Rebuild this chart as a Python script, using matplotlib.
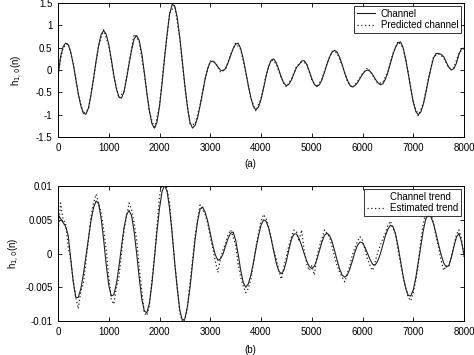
import numpy as np
import matplotlib
matplotlib.use("Agg")
import matplotlib.pyplot as plt
from matplotlib.lines import Line2D

plt.rcParams['font.family'] = ['Liberation Sans', 'DejaVu Sans']
plt.rcParams['axes.unicode_minus'] = False

# ---- data (a) ----
n_a = list(range(0, 8001, 50))
channel = [-0.15, 0.3, 0.52, 0.6, 0.568, 0.405, 0.133, -0.2, -0.533, -0.805,
           -0.968, -0.99, -0.85, -0.56, -0.19, 0.2, 0.54, 0.8, 0.88, 0.8,
           0.57, 0.24, -0.12, -0.42, -0.6, -0.63, -0.49, -0.2, 0.14, 0.45,
           0.7, 0.77, 0.66, 0.37, -0.05, -0.51, -0.91, -1.2, -1.3, -1.17,
           -0.81, -0.3, 0.28, 0.81, 1.26, 1.47, 1.43, 1.17, 0.73, 0.2,
           -0.35, -0.83, -1.17, -1.3, -1.24, -1.07, -0.8, -0.5, -0.2, 0.04,
           0.18, 0.2, 0.15, 0.07, 0.0, -0.02, 0.03, 0.16, 0.32, 0.48,
           0.58, 0.6, 0.48, 0.25, -0.04, -0.35, -0.62, -0.82, -0.89, -0.83,
           -0.66, -0.41, -0.14, 0.08, 0.22, 0.25, 0.16, 0.01, -0.16, -0.3,
           -0.35, -0.32, -0.22, -0.08, 0.06, 0.12, 0.2, 0.21, 0.13, -0.02,
           -0.19, -0.32, -0.37, -0.33, -0.22, -0.05, 0.13, 0.29, 0.4, 0.44,
           0.4, 0.28, 0.12, -0.07, -0.22, -0.34, -0.38, -0.35, -0.285, -0.19,
           -0.095, -0.025, 0.0, -0.03, -0.1, -0.2, -0.28, -0.33, -0.31, -0.21,
           -0.05, 0.15, 0.35, 0.51, 0.61, 0.63, 0.5, 0.25, -0.07, -0.41,
           -0.71, -0.93, -1.0, -0.94, -0.76, -0.5, -0.21, 0.05, 0.27, 0.37,
           0.37, 0.35, 0.3, 0.18, 0.06, 0.0, 0.03, 0.15, 0.35, 0.48, 0.47]
n_p = list(range(0, 8001, 100))
predicted = [-0.05, 0.5, 0.6, 0.15, -0.55, -0.98, -0.88, -0.2, 0.56, 0.9,
             0.55, -0.14, -0.63, -0.48, 0.16, 0.8, 0.64, -0.08, -0.93, -1.32,
             -0.8, 0.3, 1.27, 1.45, 0.7, -0.38, -1.2, -1.22, -0.78, -0.18,
             0.2, 0.17, -0.04, 0.02, 0.34, 0.6, 0.46, -0.06, -0.64, -0.92,
             -0.64, -0.12, 0.24, 0.14, -0.18, -0.38, -0.2, 0.08, 0.18, 0.15,
             -0.22, -0.38, -0.2, 0.14, 0.42, 0.38, 0.1, -0.25, -0.4, -0.26,
             -0.08, 0.05, -0.12, -0.3, -0.28, -0.03, 0.37, 0.64, 0.5, -0.05,
             -0.73, -1.02, -0.74, -0.18, 0.3, 0.36, 0.28, 0.04, 0.05, 0.38, 0.5]

# ---- data (b) ----
n_b = list(range(0, 8001, 50))
trend = [0.0058, 0.0052, 0.0046, 0.0040, 0.0027, -0.0007, -0.0042, -0.0065, -0.0065, -0.0052,
         -0.0031, -0.0004, 0.0024, 0.0049, 0.0068, 0.0078, 0.0074, 0.0052, 0.0020, -0.0017,
         -0.0047, -0.0063, -0.0061, -0.0045, -0.0020, 0.0010, 0.0038, 0.0057, 0.0064, 0.0056,
         0.0032, 0.0000, -0.0036, -0.0067, -0.0085, -0.0088, -0.0074, -0.0045, -0.0007, 0.0033,
         0.0067, 0.0092, 0.0101, 0.0092, 0.0066, 0.0029, -0.0014, -0.0052, -0.0084, -0.0099,
         -0.0097, -0.0079, -0.0051, -0.0016, 0.0020, 0.0048, 0.0066, 0.0069, 0.0061, 0.0048,
         0.0030, 0.0012, -0.0002, -0.0010, -0.0008, -0.0001, 0.0011, 0.0022, 0.0030, 0.0032,
         0.0020, -0.0001, -0.0025, -0.0043, -0.0050, -0.0045, -0.0032, -0.0014, 0.0007, 0.0026,
         0.0042, 0.0050, 0.0048, 0.0038, 0.0022, 0.0004, -0.0014, -0.0026, -0.0030, -0.0025,
         -0.0011, 0.0006, 0.0021, 0.0029, 0.0029, 0.0022, 0.0012, 0.0000, -0.0011, -0.0019,
         -0.0022, -0.0019, -0.0009, 0.0004, 0.0017, 0.0027, 0.0030, 0.0027, 0.0018, 0.0004,
         -0.0010, -0.0023, -0.0032, -0.0035, -0.0032, -0.0023, -0.0011, 0.0002, 0.0012, 0.0017,
         0.0016, 0.0009, 0.0000, -0.0009, -0.0016, -0.0017, -0.0011, -0.0001, 0.00125, 0.0026,
         0.0036, 0.0042, 0.0040, 0.0029, 0.0011, -0.0011, -0.0033, -0.0051, -0.0062, -0.0063,
         -0.0054, -0.0036, -0.0012, 0.0013, 0.0035, 0.0052, 0.0057, 0.0054, 0.0044, 0.0029,
         0.0013, -0.0002, -0.0014, -0.0020, -0.0018, -0.0006, 0.0010, 0.0024, 0.0030, 0.0018,
         -0.0002]
n_e = list(range(0, 8001, 50))
estimated = [0.003, 0.0075, 0.005, 0.0045, 0.001, -0.001, -0.004, -0.0065, -0.0082, -0.0055,
             -0.0045, -0.001, 0.002, 0.0055, 0.0075, 0.0088, 0.0075, 0.006, 0.0035, 0.0005,
             -0.0035, -0.0068, -0.0075, -0.005, -0.0035, 0.0, 0.0035, 0.0055, 0.0075, 0.0065,
             0.0045, 0.002, -0.002, -0.0055, -0.0088, -0.0092, -0.0078, -0.004, -0.0005, 0.004,
             0.0085, 0.0105, 0.0108, 0.0095, 0.0075, 0.003, -0.0015, -0.005, -0.0088, -0.0102,
             -0.0098, -0.0078, -0.0045, -0.001, 0.0025, 0.005, 0.0072, 0.0065, 0.0058, 0.0045,
             0.0025, 0.0008, -0.0012, -0.0028, -0.0008, 0.0005, 0.0015, 0.0028, 0.0035, 0.0025,
             0.0012, -0.0015, -0.0035, -0.0048, -0.0058, -0.0052, -0.0038, -0.0015, 0.001, 0.003,
             0.0048, 0.0058, 0.0052, 0.004, 0.0022, 0.0005, -0.0008, -0.0025, -0.0038, -0.002,
             -0.0005, 0.0012, 0.0025, 0.0035, 0.0032, 0.0018, 0.0035, 0.0005, -0.0015, -0.0025,
             -0.0018, -0.0032, -0.0005, 0.001, 0.0022, 0.0035, 0.003, 0.0025, 0.001, -0.0005,
             -0.0018, -0.0028, -0.0035, -0.0042, -0.003, -0.0018, -0.0002, 0.0008, 0.0018, 0.0025,
             0.002, 0.0005, -0.0008, -0.0018, -0.0025, -0.0012, 0.0002, 0.0012, 0.0022, 0.003,
             0.0042, 0.0048, 0.0038, 0.003, 0.0005, -0.0015, -0.0035, -0.005, -0.0065, -0.007,
             -0.0058, -0.004, -0.0015, 0.002, 0.0045, 0.0062, 0.0065, 0.0058, 0.0045, 0.0025,
             0.0008, -0.001, -0.0025, -0.0018, -0.002, -0.0005, 0.0012, 0.0028, 0.0035, 0.0022,
             -0.0005]

xticks = [0, 1000, 2000, 3000, 4000, 5000, 6000, 7000, 8000]
yticks_a = [-1.5, -1, -0.5, 0, 0.5, 1, 1.5]
ylabels_a = ['-1.5', '-1', '-0.5', '0', '0.5', '1', '1.5']
yticks_b = [-0.01, -0.005, 0, 0.005, 0.01]
ylabels_b = ['-0.01', '-0.005', '0', '0.005', '0.01']

fig = plt.figure(figsize=(4.74, 3.55), dpi=100)
ax1 = fig.add_axes([0.1224, 0.614, 0.8565, 0.3775])
ax2 = fig.add_axes([0.1224, 0.0958, 0.8565, 0.380])

lc = '#222222'
l1, = ax1.plot(n_a, channel, color=lc, lw=0.8, label='Channel')
l2, = ax1.plot(n_p, predicted, color=lc, lw=0.9, ls=(0, (1, 2)), label='Predicted channel')
ax1.set_xlim(0, 8000)
ax1.set_ylim(-1.5, 1.5)
ax1.set_yticks(yticks_a)
ax1.set_yticklabels(ylabels_a)

l3, = ax2.plot(n_b, trend, color=lc, lw=0.8, label='Channel trend')
l4, = ax2.plot(n_e, estimated, color=lc, lw=0.9, ls=(0, (1, 2)), label='Estimated trend')
ax2.set_xlim(0, 8000)
ax2.set_ylim(-0.01, 0.01)
ax2.set_yticks(yticks_b)
ax2.set_yticklabels(ylabels_b)

hidden = Line2D([], [], color='none', label='Channel trend')
handles = [[l1, l2], [hidden, l4]]

for ax, hs in zip((ax1, ax2), handles):
    ax.set_xticks(xticks)
    ax.set_xticklabels([str(t) for t in xticks])
    ax.tick_params(direction='in', top=True, right=True, labelsize=7, length=3, width=0.6, pad=4)
    for s in ax.spines.values():
        s.set_linewidth(0.7)
    leg = ax.legend(handles=hs, loc='upper right', fontsize=7, frameon=True, fancybox=False,
                    handlelength=1.8, borderpad=0.3, labelspacing=0.15,
                    handletextpad=0.6, borderaxespad=0.3)
    leg.get_frame().set_edgecolor('black')
    leg.get_frame().set_linewidth(0.7)

ax1.set_ylabel('h$_{1,0}$(n)', fontsize=7, labelpad=8)
ax2.set_ylabel('h$_{1,0}$(n)', fontsize=7, labelpad=2)

fig.text(250 / 474, 1 - 164 / 355, '(a)', fontsize=7, ha='center', va='center')
fig.text(250 / 474, 1 - 350 / 355, '(b)', fontsize=7, ha='center', va='center')

fig.savefig('out.png', dpi=100)
